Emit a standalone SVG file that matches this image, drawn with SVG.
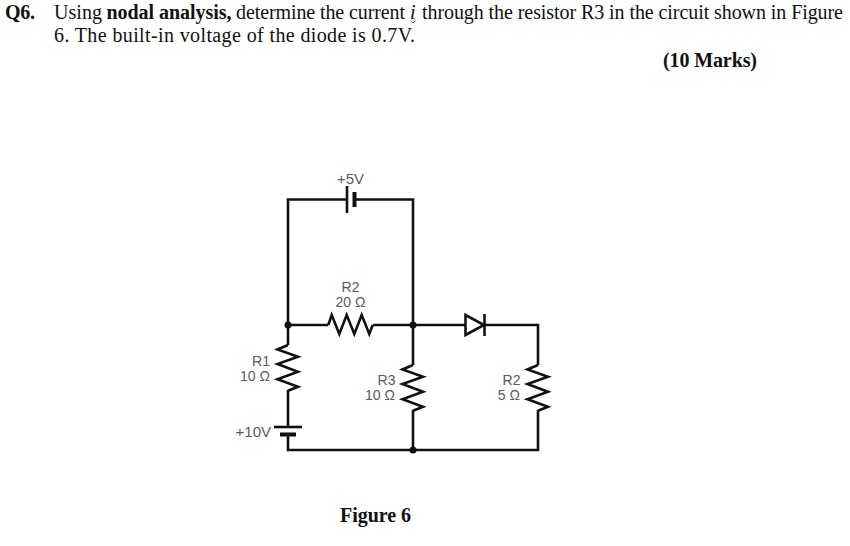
<svg xmlns="http://www.w3.org/2000/svg" width="850" height="546" viewBox="0 0 850 546">
<style>
.q{font-family:"Liberation Serif","Times New Roman",serif;font-size:20px;fill:#111}
.b{font-weight:bold}
.l{font-family:"Liberation Sans",Arial,sans-serif;font-size:14px;fill:#5a5a5a}
.v{font-size:15px}
.w{fill:none;stroke:#111;stroke-width:2.600;stroke-linejoin:miter}
.t{fill:none;stroke:#111;stroke-width:4}
.d{fill:#111}
</style>
<rect width="850" height="546" fill="#fff"/>
<g id="question">
<text class="q b" x="5" y="19" textLength="30">Q6.</text>
<text class="q" x="54" y="19" textLength="48">Using</text>
<text class="q b" x="106.500" y="19" textLength="125">nodal analysis,</text>
<text class="q" x="236" y="19" textLength="169">determine the current</text>
<text class="q" x="410" y="19" font-style="italic">i</text>
<text class="q" x="422" y="19" textLength="421">through the resistor R3 in the circuit shown in Figure</text>
<text class="q" x="54" y="42" textLength="361">6. The built-in voltage of the diode is 0.7V.</text>
<text class="q b" x="663" y="67" textLength="94">(10 Marks)</text>
<path d="M410.500 20.500l2.500 2.500 2.500-2.500" fill="none" stroke="#d33" stroke-width="1"/>
</g>
<g id="connectors">
<path class="w" d="M347 199.500H288V345M355 199.500H413V365M288 325H328M373 325H465M484 325H538V365M288 390V427M288 435V450H538V410M413 410V450"/>
</g>
<g id="battery-5v"><path class="w" d="M347 186V213"/><path class="t" d="M354.500 192V207"/><text class="l v" x="350.500" y="184" text-anchor="middle">+5V</text></g>
<g id="r2-top"><path class="w" d="M328.300 325L331.700 315L339.300 334L346.700 315L354.300 334L361.700 315L369.300 334L372.700 325"/><text class="l" x="350.500" y="292" text-anchor="middle">R2</text><text class="l" x="350.500" y="307" text-anchor="middle">20 Ω</text></g>
<g id="r1"><path class="w" d="M288 345L277.500 349.500L298 356.700L277.500 364L298 371.700L277.500 379.300L298 386.700L288 390.700"/><text class="l" x="270" y="366" text-anchor="end">R1</text><text class="l" x="270" y="381" text-anchor="end">10 Ω</text></g>
<g id="battery-10v"><path class="w" d="M274 427H302"/><path class="t" d="M280 434.500H296"/><text class="l v" x="271" y="437" text-anchor="end">+10V</text></g>
<g id="r3"><path class="w" d="M413 365L402.500 369.500L423 376.700L402.500 384L423 391.700L402.500 399.300L423 406.700L413 410.700"/><text class="l" x="395.500" y="385" text-anchor="end">R3</text><text class="l" x="395" y="400" text-anchor="end">10 Ω</text></g>
<g id="diode"><path class="w" d="M465.500 315L484 325L465.500 335Z"/><path class="w" d="M484.500 314V336"/></g>
<g id="r2-right"><path class="w" d="M538 365L527.500 369.500L548 376.700L527.500 384L548 391.700L527.500 399.300L548 406.700L538 410.700"/><text class="l" x="520.500" y="385" text-anchor="end">R2</text><text class="l" x="520" y="400" text-anchor="end">5 Ω</text></g>
<g id="junctions"><circle class="d" cx="288" cy="325" r="3.500"/><circle class="d" cx="413" cy="325" r="3.500"/><circle class="d" cx="413" cy="450" r="3.500"/></g>
<g id="caption"><text class="q b" x="340" y="522" textLength="71">Figure 6</text></g>
</svg>
